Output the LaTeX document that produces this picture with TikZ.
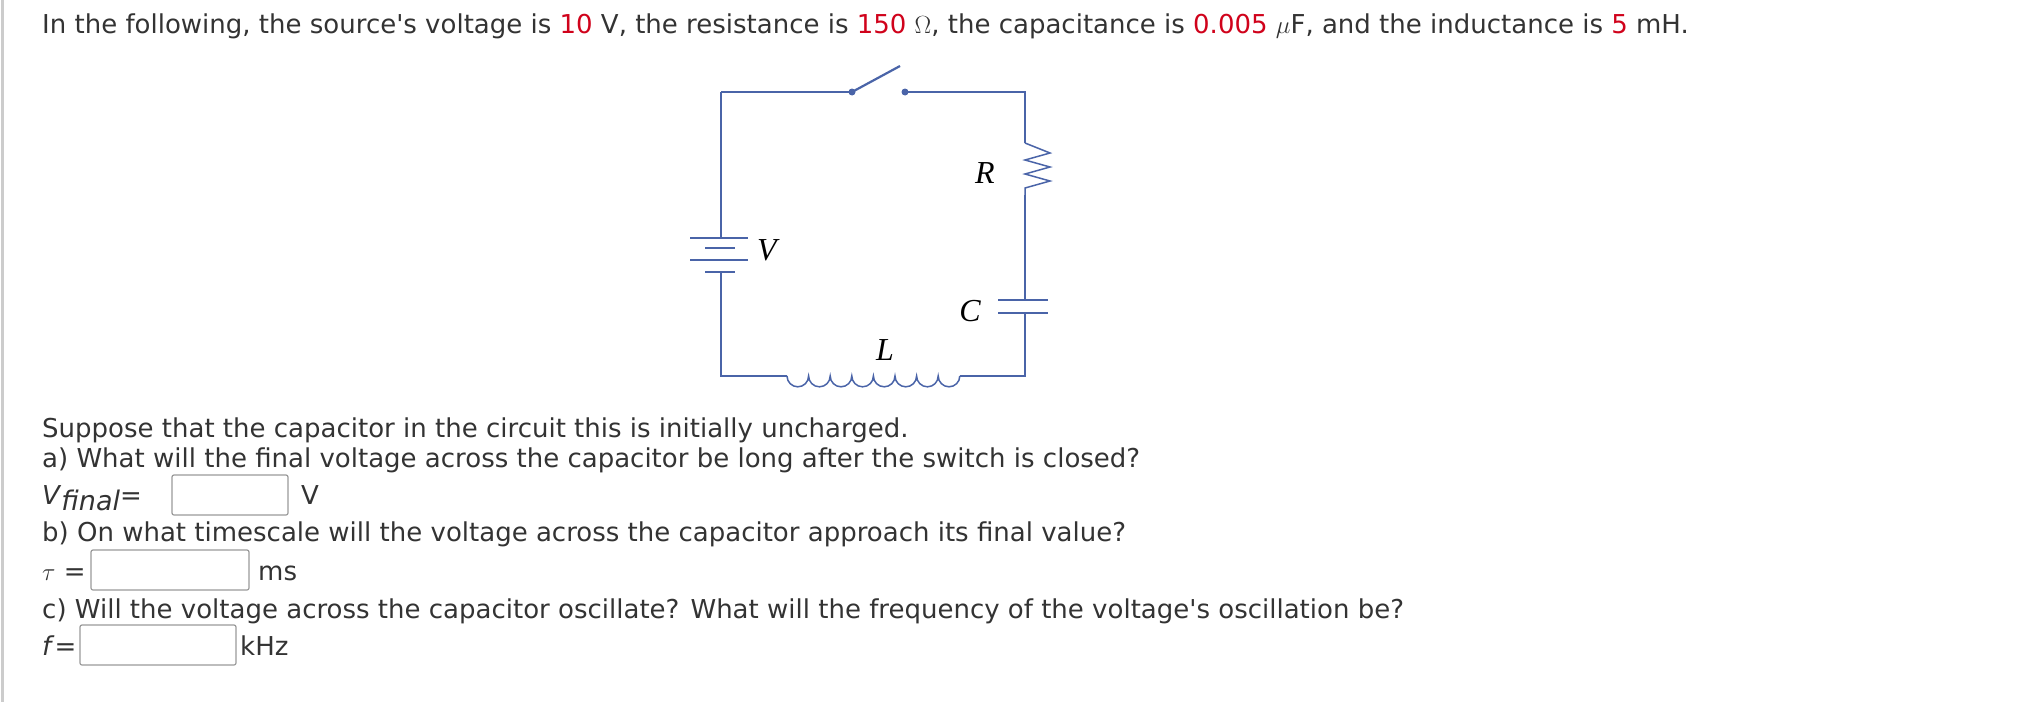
\documentclass[tikz,border=0pt]{standalone}
\usepackage{fontspec}
\setmainfont{DejaVu Sans}
\newfontfamily\labfont{Liberation Serif}
\definecolor{wire}{HTML}{4A64A8}
\definecolor{num}{HTML}{D0021B}
\definecolor{txt}{HTML}{333333}
\begin{document}
\begin{tikzpicture}[x=1pt,y=-1pt,
  w/.style={draw=wire,line width=2.2pt},
  t/.style={anchor=base west,inner sep=0pt,font=\fontsize{26}{30}\selectfont,text=txt},
  lab/.style={inner sep=0pt,font=\fontsize{32}{36}\selectfont\labfont\itshape},
  ans/.style={draw=gray!80,rounded corners=2pt,line width=1.2pt}]
\useasboundingbox (0,0) rectangle (2034,702);
\draw[gray!40,line width=3pt] (2,0) -- (2,702);
\node[t] (l1) at (42,33) {In the following, the source\textquotesingle s voltage is \textcolor{num}{10} V, the resistance is \textcolor{num}{150} $\Omega$, the capacitance is \textcolor{num}{0.005} $\mu$F, and the inductance is \textcolor{num}{5} mH.};
% circuit
\coordinate (tl) at (721,92); \coordinate (tr) at (1025,92);
\coordinate (bl) at (721,376); \coordinate (br) at (1025,376);
\coordinate (s1) at (852,92); \coordinate (s2) at (905,92);
\draw[w] (tl) -- (s1); \draw[w] (s2) -- (tr) -- (1025,143);
\draw[w] (s1) -- (900,66);
\fill[wire] (s1) circle (3.5); \fill[wire] (s2) circle (3.5);
\draw[w,line width=1.5pt] (1025,143) -- (1050,153) -- (1025,160) -- (1050,167) -- (1025,174) -- (1050,181) -- (1025,188) -- (1025,195);
\draw[w] (1025,195) -- (1025,300);
\draw[w] (998,300) -- (1048,300); \draw[w] (998,313) -- (1048,313);
\draw[w] (1025,313) -- (br) -- (960,376);
\draw[wire,line width=1.5pt] (787,376) \foreach \i in {0,...,7} { arc[start angle=180,end angle=0,radius=10.8] };
\draw[w] (787,376) -- (bl) -- (721,272);
\draw[w] (690,238) -- (748,238); \draw[w] (705,248) -- (735,248);
\draw[w] (690,260) -- (748,260); \draw[w] (705,272) -- (735,272);
\draw[w] (721,238) -- (tl);
\node[lab] (R) at (985,173) {R};
\node[lab] (V) at (767,250) {V};
\node[lab] (C) at (970,311) {C};
\node[lab] (L) at (885,350) {L};
% questions
\node[t] (q0) at (42,437) {Suppose that the capacitor in the circuit this is initially uncharged.};
\node[t] (q1) at (42,467) {a) What will the final voltage across the capacitor be long after the switch is closed?};
\node[t] (q2) at (42,504) {\textit{V}\raisebox{-6pt}{\fontsize{27}{28}\selectfont\textit{final}}=};
\draw[ans] (172,475) rectangle (288,515);
\node[t] (u1) at (301,504) {V};
\node[t] (q3) at (42,541) {b) On what timescale will the voltage across the capacitor approach its final value?};
\node[t] (q4) at (42,580) {$\tau$ =};
\draw[ans] (91,550) rectangle (249,590);
\node[t] (u2) at (258,580) {ms};
\node[t] (q5) at (42,618) {c) Will the voltage across the capacitor oscillate? What will the frequency of the voltage\textquotesingle s oscillation be?};
\node[t] (q6) at (42,655) {\textit{f}=};
\draw[ans] (80,625) rectangle (236,665);
\node[t] (u3) at (240,655) {kHz};
\end{tikzpicture}
\end{document}
